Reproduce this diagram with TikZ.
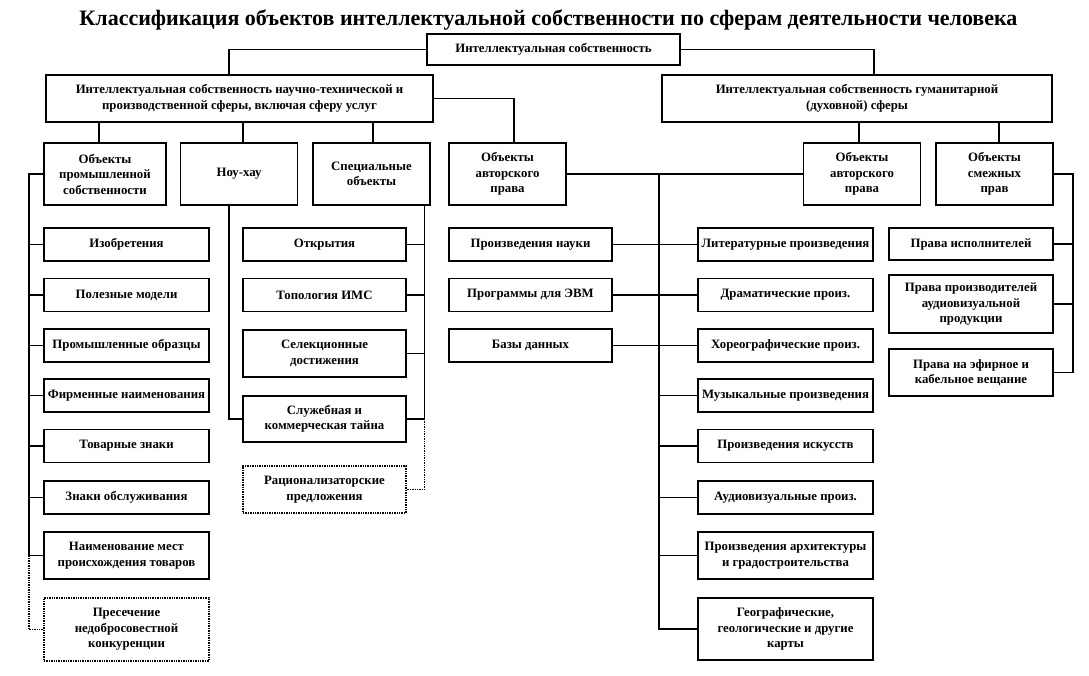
\documentclass[tikz,border=0pt]{standalone}
\usepackage{fontspec}
\setmainfont{Liberation Serif}

\begin{document}
\begin{tikzpicture}[x=1pt,y=-1pt,
  blk/.style={draw, line width=1.4pt, align=center, inner sep=1pt, font=\bfseries\fontsize{12.8}{15.5}\selectfont},
  lvl/.style={blk, minimum width=117pt, minimum height=62pt},
  lcol/.style={blk, minimum width=165pt, minimum height=33pt},
  mcol/.style={blk, minimum width=163pt, minimum height=33pt},
  rcol/.style={blk, minimum width=175pt, minimum height=33pt},
  scol/.style={blk, minimum width=164pt, minimum height=32pt},
  ln/.style={line width=1.4pt},
  dln/.style={ln, densely dotted}]
\useasboundingbox (0,0) rectangle (1089,675);

\node[anchor=base, font=\bfseries\fontsize{22}{26}\selectfont] (title) at (548.5,25) {Классификация объектов интеллектуальной собственности по сферам деятельности человека};

\node[blk, minimum width=253pt, minimum height=31pt] (root) at (553.5,49.5) {Интеллектуальная собственность};
\node[blk, minimum width=387pt, minimum height=47pt] (lsph) at (239.5,98.5) {Интеллектуальная собственность научно-технической и\\производственной сферы, включая сферу услуг};
\node[blk, minimum width=390pt, minimum height=47pt] (rsph) at (857,98.5) {Интеллектуальная собственность гуманитарной\\(духовной) сферы};

% third level
\node[lvl, minimum width=122pt] (prom) at (105,174) {Объекты\\промышленной\\собственности};
\node[lvl] (know) at (239,174) {Ноу-хау};
\node[lvl] (spec) at (371.5,174) {Специальные\\объекты};
\node[lvl] (avtL) at (507.5,174) {Объекты\\авторского\\права};
\node[lvl] (avtR) at (862,174) {Объекты\\авторского\\права};
\node[lvl] (smezh) at (994.5,174) {Объекты\\смежных\\прав};

% industrial property
\node[lcol] (izobr) at (126.5,244.5) {Изобретения};
\node[lcol] (polez) at (126.5,295) {Полезные модели};
\node[lcol] (obraz) at (126.5,345.5) {Промышленные образцы};
\node[lcol] (firm) at (126.5,395.5) {Фирменные наименования};
\node[lcol] (tovar) at (126.5,446) {Товарные знаки};
\node[lcol] (obsl) at (126.5,497.5) {Знаки обслуживания};
\node[lcol, minimum height=47pt] (mest) at (126.5,555.5) {Наименование мест\\происхождения товаров};
\node[lcol, densely dotted, minimum height=63pt] (presech) at (126.5,629.5) {Пресечение\\недобросовестной\\конкуренции};

% special objects
\node[mcol] (otkr) at (324.5,244.5) {Открытия};
\node[mcol] (topol) at (324.5,295) {Топология ИМС};
\node[mcol, minimum height=47pt] (selek) at (324.5,353.5) {Селекционные\\достижения};
\node[mcol, minimum height=46pt] (taina) at (324.5,419) {Служебная и\\коммерческая тайна};
\node[mcol, densely dotted, minimum height=47pt] (racio) at (324.5,489.5) {Рационализаторские\\предложения};

% copyright, science side
\node[mcol] (nauka) at (530.5,244.5) {Произведения науки};
\node[mcol] (evm) at (530.5,295) {Программы для ЭВМ};
\node[mcol] (bazy) at (530.5,345.5) {Базы данных};

% copyright, humanities side
\node[rcol] (lit) at (785.5,244.5) {Литературные произведения};
\node[rcol] (dram) at (785.5,295) {Драматические произ.};
\node[rcol] (horeo) at (785.5,345.5) {Хореографические произ.};
\node[rcol] (muz) at (785.5,395.5) {Музыкальные произведения};
\node[rcol] (isk) at (785.5,446) {Произведения искусств};
\node[rcol] (audio) at (785.5,497.5) {Аудиовизуальные произ.};
\node[rcol, minimum height=47pt] (arch) at (785.5,555.5) {Произведения архитектуры\\и градостроительства};
\node[rcol, minimum height=62pt] (geo) at (785.5,629) {Географические,\\геологические и другие\\карты};

% related rights
\node[scol] (ispoln) at (971,244) {Права исполнителей};
\node[scol, minimum height=58pt] (proizv) at (971,304) {Права производителей\\аудиовизуальной\\продукции};
\node[scol, minimum height=47pt] (efir) at (971,372.5) {Права на эфирное и\\кабельное вещание};

\coordinate (promT) at (29,174);
\coordinate (specT) at ([xshift=-6pt]spec.south east);
\coordinate (avtT) at (659,174);
\coordinate (smT) at (1073,174);

\draw[ln] (root.west) -| ([xshift=-10.5pt]lsph.north);
\draw[ln] (root.east) -| ([xshift=17pt]rsph.north);
\draw[ln] ([xshift=-6pt]prom.north) -- ++(0,-21);
\draw[ln] ([xshift=4pt]know.north) -- ++(0,-21);
\draw[ln] ([xshift=1.5pt]spec.north) -- ++(0,-21);
\draw[ln] (lsph.east) -| ([xshift=6.5pt]avtL.north);
\draw[ln] ([xshift=-3pt]avtR.north) -- ++(0,-21);
\draw[ln] ([xshift=4.5pt]smezh.north) -- ++(0,-21);

\draw[ln] (prom.west) -- (promT) |- (mest.west);
\foreach \n in {izobr,polez,obraz,firm,tovar,obsl}
  \draw[ln] (promT |- \n.west) -- (\n.west);
\draw[dln] (promT |- mest.west) |- (presech.west);

\draw[ln] ([xshift=-10pt]know.south) |- (taina.west);
\draw[ln] (specT) |- (taina.east);
\foreach \n in {otkr,topol,selek}
  \draw[ln] (specT |- \n.east) -- (\n.east);
\draw[dln] (specT |- taina.east) |- (racio.east);

\draw[ln] (avtL.east) -- (avtR.west);
\draw[ln] (avtT) |- (geo.west);
\foreach \n in {muz,isk,audio,arch}
  \draw[ln] (avtT |- \n.west) -- (\n.west);
\draw[ln] (nauka.east) -- (lit.west) (evm.east) -- (dram.west) (bazy.east) -- (horeo.west);

\draw[ln] (smezh.east) -- (smT) |- (efir.east);
\foreach \n in {ispoln,proizv}
  \draw[ln] (smT |- \n.east) -- (\n.east);
\end{tikzpicture}
\end{document}
